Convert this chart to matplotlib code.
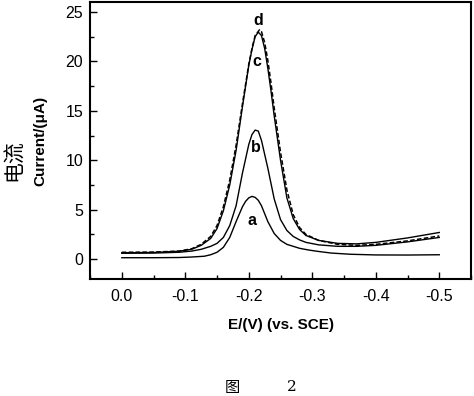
import matplotlib
matplotlib.use("Agg")
import matplotlib.pyplot as plt
from matplotlib.ticker import MultipleLocator

# potentials (V vs. SCE) and currents (uA)
xa = [0.0, -0.05, -0.09, -0.11, -0.13, -0.14, -0.15, -0.16, -0.17, -0.18, -0.19,
      -0.195, -0.20, -0.205, -0.21, -0.215, -0.22, -0.23, -0.24, -0.25, -0.26,
      -0.27, -0.28, -0.295, -0.31, -0.33, -0.36, -0.40, -0.45, -0.50]
ya = [0.15, 0.15, 0.17, 0.22, 0.3, 0.45, 0.7, 1.2, 2.2, 3.8, 5.3,
      5.85, 6.2, 6.35, 6.25, 5.95, 5.4, 3.8, 2.6, 1.9, 1.5,
      1.3, 1.1, 0.92, 0.78, 0.62, 0.5, 0.43, 0.42, 0.45]

xb = [0.0, -0.05, -0.09, -0.11, -0.125, -0.14, -0.15, -0.16, -0.17, -0.18, -0.19,
      -0.20, -0.205, -0.21, -0.215, -0.22, -0.23, -0.24, -0.25, -0.26, -0.27,
      -0.28, -0.29, -0.31, -0.34, -0.37, -0.40, -0.45, -0.50]
yb = [0.6, 0.62, 0.7, 0.82, 1.0, 1.3, 1.6, 2.2, 3.4, 5.4, 8.7,
      11.6, 12.6, 13.05, 12.95, 12.0, 9.2, 6.1, 4.0, 2.9, 2.3,
      1.95, 1.7, 1.45, 1.3, 1.3, 1.4, 1.75, 2.2]

xc = [0.0, -0.05, -0.09, -0.11, -0.125, -0.14, -0.15, -0.16, -0.17, -0.18, -0.19,
      -0.195, -0.20, -0.205, -0.21, -0.215, -0.22, -0.225, -0.23, -0.235, -0.24,
      -0.25, -0.26, -0.27, -0.28, -0.29, -0.31, -0.34, -0.37, -0.40, -0.45, -0.50]
yc = [0.65, 0.68, 0.8, 1.0, 1.4, 2.1, 3.1, 4.9, 7.5, 11.0, 15.4,
      17.5, 19.6, 21.2, 22.5, 22.95, 22.6, 21.3, 19.3, 17.0, 14.5,
      10.0, 6.2, 4.1, 3.0, 2.4, 1.9, 1.6, 1.55, 1.7, 2.15, 2.7]

xd = [0.0, -0.05, -0.09, -0.11, -0.125, -0.14, -0.15, -0.16, -0.17, -0.18, -0.19,
      -0.195, -0.20, -0.205, -0.21, -0.217, -0.22, -0.225, -0.23, -0.235, -0.24,
      -0.25, -0.26, -0.27, -0.28, -0.29, -0.31, -0.34, -0.37, -0.40, -0.45, -0.50]
yd = [0.7, 0.72, 0.82, 1.05, 1.5, 2.3, 3.4, 5.3, 8.0, 11.5, 15.7,
      17.7, 19.7, 21.3, 22.6, 23.2, 23.0, 21.9, 20.1, 17.8, 15.3,
      10.8, 7.0, 4.5, 3.2, 2.5, 1.9, 1.5, 1.4, 1.5, 1.85, 2.35]

labels = ["a", "b", "c", "d"]
label_x = [-0.2055, -0.2118, -0.2128, -0.2154]
label_y = [3.9, 11.3, 20.0, 24.15]

fig = plt.figure(figsize=(4.74, 3.96), dpi=100)
ax = fig.add_axes([0.19, 0.2955, 0.8037, 0.6995])

ax.plot(xa, ya, color="black", lw=1.0)
ax.plot(xb, yb, color="black", lw=1.0)
ax.plot(xc, yc, color="black", lw=1.0)
ax.plot(xd, yd, color="black", lw=1.1, ls=(0, (3, 1.5)))

for lab, lx, ly in zip(labels, label_x, label_y):
    ax.text(lx, ly, lab, ha="center", va="center", fontsize=11.5,
            fontweight="bold", family="Liberation Sans")

ax.set_xlim(0.05, -0.55)
ax.set_ylim(-2, 26)
ax.xaxis.set_major_locator(MultipleLocator(0.1))
ax.xaxis.set_minor_locator(MultipleLocator(0.05))
ax.yaxis.set_major_locator(MultipleLocator(5))
ax.yaxis.set_minor_locator(MultipleLocator(2.5))
ax.set_xticks([0.0, -0.1, -0.2, -0.3, -0.4, -0.5])
ax.set_xticklabels(["0.0", "-0.1", "-0.2", "-0.3", "-0.4", "-0.5"])
ax.tick_params(which="both", direction="in", width=1.0, labelsize=11.5)
ax.tick_params(axis="x", pad=7)
ax.tick_params(axis="y", pad=5)
ax.tick_params(which="major", length=5)
ax.tick_params(which="minor", length=3)
for lbl in ax.get_xticklabels() + ax.get_yticklabels():
    lbl.set_family("Liberation Sans")
for sp in ax.spines.values():
    sp.set_linewidth(1.5)

ax.set_xlabel("E/(V) (vs. SCE)", fontsize=11, fontweight="bold",
              family="Liberation Sans", labelpad=10)
ax.set_ylabel("Current/(μA)", fontsize=11, fontweight="bold",
              family="Liberation Sans", labelpad=13)
fig.text(0.03, 0.595, "电流", rotation=90, ha="center", va="center",
         fontsize=15, family=["Noto Sans CJK SC", "DejaVu Sans"])

fig.text(0.49, 0.022, "图", ha="center", va="center", fontsize=11,
         family=["Noto Sans CJK SC", "DejaVu Sans"])
fig.text(0.616, 0.022, "2", ha="center", va="center", fontsize=11,
         family="DejaVu Serif")

fig.savefig("out.png", dpi=100)
